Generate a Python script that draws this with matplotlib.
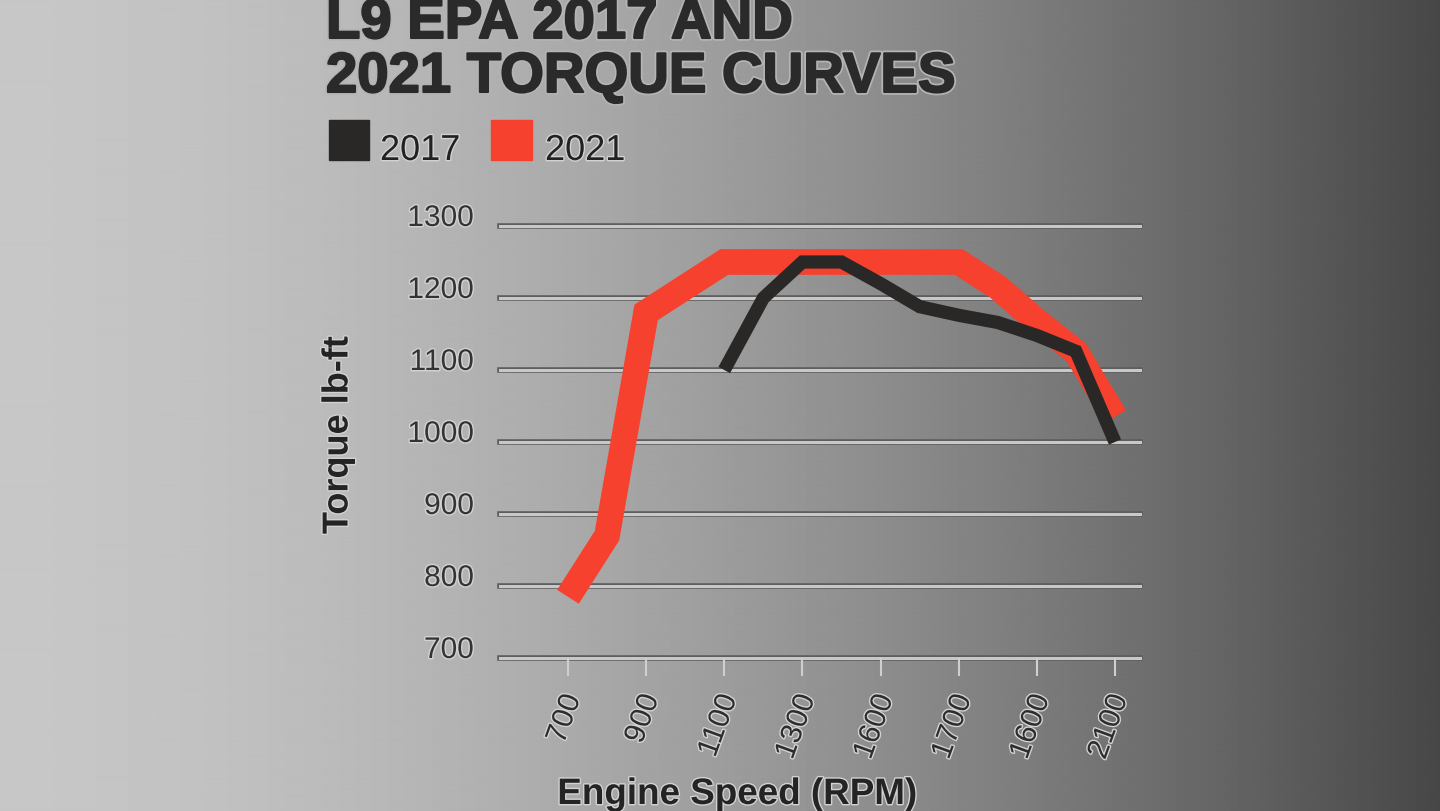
import numpy as np
import matplotlib
matplotlib.use("Agg")
import matplotlib.pyplot as plt
import matplotlib.patheffects as pe
import matplotlib.transforms as mtransforms
from matplotlib.patches import Rectangle

plt.rcParams['font.family'] = ['Liberation Sans', 'DejaVu Sans']

# data (x in rpm, every 100 rpm)
rpm_2021 = [700, 800, 900, 1000, 1100, 1200, 1300, 1400, 1500, 1600, 1700, 1800, 1900, 2000, 2100]
torque_2021 = [785, 870, 1180, 1215, 1250, 1250, 1250, 1250, 1250, 1250, 1250, 1215, 1168, 1125, 1035]
rpm_2017 = [1100, 1200, 1300, 1400, 1500, 1600, 1700, 1800, 1900, 2000, 2100]
torque_2017 = [1100, 1200, 1250, 1250, 1220, 1188, 1176, 1166, 1148, 1126, 1000]

# tick labels exactly as printed on the original
tick_rpm = [700, 900, 1100, 1300, 1500, 1700, 1900, 2100]
tick_labels = ['700', '900', '1100', '1300', '1600', '1700', '1600', '2100']
torque_ticks = [700, 800, 900, 1000, 1100, 1200, 1300]

W, H = 1440, 811
fig = plt.figure(figsize=(W / 100, H / 100), dpi=100)

# background: light grey on the left fading to dark grey on the right
bg = fig.add_axes([0, 0, 1, 1], zorder=-10)
xs = np.linspace(0, 1, 1440)
shade = 0.78 - 0.50 * xs ** 1.6
bg.imshow(np.tile(shade, (10, 1)), cmap='gray', vmin=0, vmax=1,
          aspect='auto', extent=[0, 1, 0, 1], interpolation='bilinear')
bg.axis('off')

ax = fig.add_axes([500 / W, (H - 658) / H, 640 / W, 432 / H])
ax.set_facecolor('none')
ax.set_xlim(526, 2164)
ax.set_ylim(700, 1300)
for s in ax.spines.values():
    s.set_visible(False)

halo = [pe.withStroke(linewidth=2, foreground='#d2d2d2')]

for v in torque_ticks:
    ax.axhline(v, color='#c8c8c8', lw=2.2, zorder=1, clip_on=False,
               path_effects=[pe.withStroke(linewidth=4, foreground='#5c5c5c')])

ax.plot(rpm_2021, torque_2021, color='#f5412e', lw=18.5,
        solid_joinstyle='miter', solid_capstyle='butt', zorder=3, clip_on=False)
ax.plot(rpm_2017, torque_2017, color='#2a2727', lw=9.5,
        solid_joinstyle='miter', solid_capstyle='butt', zorder=4, clip_on=False)

ax.set_xticks(tick_rpm, tick_labels)
ax.tick_params(axis='x', length=13, width=1.5, color='#cfcfcf', pad=14,
               labelsize=21.5, labelcolor='#2d2d2d')
offset = mtransforms.ScaledTranslation(5 / 100, 0, fig.dpi_scale_trans)
for lab in ax.get_xticklabels():
    lab.set_rotation(70)
    lab.set_rotation_mode('anchor')
    lab.set_ha('right')
    lab.set_va('center')
    lab.set_transform(lab.get_transform() + offset)
    lab.set_path_effects(halo)

ax.set_yticks(torque_ticks)
ax.tick_params(axis='y', length=0, pad=19, labelsize=21.5, labelcolor='#333333')
for lab in ax.get_yticklabels():
    lab.set_va('baseline')
    lab.set_path_effects(halo)

ink = '#2a2a2a'
title_fx = [pe.Stroke(linewidth=4, foreground='#b4b4b4'),
            pe.Stroke(linewidth=1.5, foreground=ink), pe.Normal()]
fig.text(326 / W, 1 - 38 / H, 'L9 EPA 2017 AND', ha='left', va='baseline',
         fontsize=40.5, fontweight='bold', color=ink, path_effects=title_fx)
fig.text(326 / W, 1 - 92 / H, '2021 TORQUE CURVES', ha='left', va='baseline',
         fontsize=40.5, fontweight='bold', color=ink, path_effects=title_fx)

# legend
fig.add_artist(Rectangle((329 / W, 1 - 160 / H), 40 / W, 40 / H,
                         transform=fig.transFigure, color='#2a2727'))
fig.text(380 / W, 1 - 160 / H, '2017', ha='left', va='baseline',
         fontsize=26, color='#222222', path_effects=halo)
fig.add_artist(Rectangle((491 / W, 1 - 160 / H), 41 / W, 40 / H,
                         transform=fig.transFigure, color='#f5412e'))
fig.text(545 / W, 1 - 160 / H, '2021', ha='left', va='baseline',
         fontsize=26, color='#222222', path_effects=halo)

fig.text(338 / W, 1 - 435 / H, 'Torque lb-ft', rotation=90, ha='center',
         va='center', fontsize=26, fontweight='bold', color='#242424',
         path_effects=halo)
fig.text(737 / W, 1 - 804 / H, 'Engine Speed (RPM)', ha='center',
         va='baseline', fontsize=26.5, fontweight='bold', color='#242424',
         path_effects=halo)

fig.savefig('out.png', dpi=100)
